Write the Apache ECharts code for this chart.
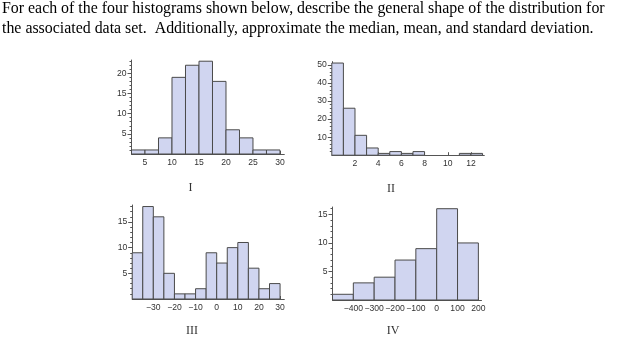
<!DOCTYPE html>
<html>
<head>
<meta charset="utf-8">
<script src="https://cdn.jsdelivr.net/npm/echarts@6/dist/echarts.min.js"></script>
<style>
html,body{margin:0;padding:0;background:#fff;}
#chart{width:630px;height:356px;}
</style>
</head>
<body>
<div id="chart"></div>
<script>
// ---- data ----
const titleLines = [
  'For each of the four histograms shown below, describe the general shape of the distribution for',
  'the associated data set.  Additionally, approximate the median, mean, and standard deviation.'
];
const panelNames = ['I', 'II', 'III', 'IV'];

const h1Edges = [2.5, 5, 7.5, 10, 12.5, 15, 17.5, 20, 22.5, 25, 27.5, 30];
const h1Counts = [1, 1, 4, 19, 22, 23, 18, 6, 4, 1, 1];
const h1XTicks = [5, 10, 15, 20, 25, 30];
const h1YTicks = [5, 10, 15, 20];

const h2Edges = [0, 1, 2, 3, 4, 5, 6, 7, 8, 9, 10, 11, 12, 13];
const h2Counts = [51, 26, 11, 4, 1, 2, 1, 2, 0, 0, 0, 1, 1];
const h2XTicks = [2, 4, 6, 8, 10, 12];
const h2YTicks = [10, 20, 30, 40, 50];

const h3Edges = [-40, -35, -30, -25, -20, -15, -10, -5, 0, 5, 10, 15, 20, 25, 30];
const h3Counts = [9, 18, 16, 5, 1, 1, 2, 9, 7, 10, 11, 6, 2, 3];
const h3XTicks = [-30, -20, -10, 0, 10, 20, 30];
const h3YTicks = [5, 10, 15];

const h4Edges = [-500, -400, -300, -200, -100, 0, 100, 200];
const h4Counts = [1, 3, 4, 7, 9, 16, 10];
const h4XTicks = [-400, -300, -200, -100, 0, 100, 200];
const h4YTicks = [5, 10, 15];

// ---- layout / style ----
const panels = [
  {edges: h1Edges, counts: h1Counts, xt: h1XTicks, yt: h1YTicks, grid: {left: 131.5, top: 60, width: 152.8, height: 94}, x: [2.5, 30.8], y: [0, 23.3], minorStep: 1},
  {edges: h2Edges, counts: h2Counts, xt: h2XTicks, yt: h2YTicks, grid: {left: 331.8, top: 61.6, width: 152.5, height: 93.6}, x: [0, 13.15], y: [0, 51.8], minorStep: 2},
  {edges: h3Edges, counts: h3Counts, xt: h3XTicks, yt: h3YTicks, grid: {left: 132.2, top: 205, width: 152.1, height: 94}, x: [-40, 32], y: [0, 18.3], minorStep: 1},
  {edges: h4Edges, counts: h4Counts, xt: h4XTicks, yt: h4YTicks, grid: {left: 332.5, top: 207, width: 149, height: 93}, x: [-500, 215], y: [0, 16.3], minorStep: 1}
];
const namePos = [[190.5, 187.5], [391, 188.5], [192, 331], [393, 331]];

const FILL = '#d0d5f0';
const EDGE = '#4a4a4a';
const AXIS = '#555';
const LABEL = '#333';
const fmt = v => (v < 0 ? '\u2212' + (-v) : String(v));

function minorValues(max, step) {
  const out = [];
  for (let v = step; v <= max; v += step) out.push(v);
  return out;
}

const grids = [], xAxes = [], yAxes = [], series = [];
panels.forEach((p, i) => {
  grids.push(Object.assign({outerBoundsMode: 'none', containLabel: false}, p.grid));
  xAxes.push({
    type: 'value', gridIndex: i, min: p.x[0], max: p.x[1],
    splitLine: {show: false},
    axisLine: {show: true, onZero: false, lineStyle: {color: AXIS, width: 1}},
    axisTick: {show: true, inside: true, length: 3, customValues: p.xt, lineStyle: {color: AXIS}},
    axisLabel: {show: true, customValues: p.xt, formatter: fmt, margin: 4,
      fontSize: 8.6, fontFamily: 'Liberation Sans', color: LABEL}
  });
});
panels.forEach((p, i) => {
  // minor ticks axis
  yAxes.push({
    type: 'value', gridIndex: i, min: p.y[0], max: p.y[1], position: 'left',
    splitLine: {show: false},
    axisLine: {show: true, onZero: false, lineStyle: {color: AXIS, width: 1}},
    axisTick: {show: true, length: 2, customValues: minorValues(p.y[1], p.minorStep), lineStyle: {color: AXIS}},
    axisLabel: {show: false}
  });
});
panels.forEach((p, i) => {
  // major ticks + labels axis
  yAxes.push({
    type: 'value', gridIndex: i, min: p.y[0], max: p.y[1], position: 'left',
    splitLine: {show: false},
    axisLine: {show: false, onZero: false},
    axisTick: {show: true, length: 4, customValues: p.yt, lineStyle: {color: AXIS}},
    axisLabel: {show: true, customValues: p.yt, formatter: fmt, margin: 5,
      fontSize: 8.6, fontFamily: 'Liberation Sans', color: LABEL}
  });
});

function renderBar(params, api) {
  const x0 = api.value(0), x1 = api.value(1), c = api.value(2);
  const p0 = api.coord([x0, 0]);
  const p1 = api.coord([x1, c]);
  return {
    type: 'rect',
    shape: {x: p0[0], y: p1[1], width: p1[0] - p0[0], height: p0[1] - p1[1]},
    style: {fill: FILL, stroke: EDGE, lineWidth: 1}
  };
}

panels.forEach((p, i) => {
  const data = [];
  p.counts.forEach((c, k) => { if (c > 0) data.push([p.edges[k], p.edges[k + 1], c]); });
  series.push({
    type: 'custom', xAxisIndex: i, yAxisIndex: i,
    renderItem: renderBar, encode: {x: [0, 1], y: 2},
    data: data, silent: true, animation: false, clip: false
  });
});

const graphics = [];
titleLines.forEach((t, k) => {
  graphics.push({type: 'text', left: 2, top: 0.5 + k * 20.3,
    style: {text: t, font: '15.9px "Liberation Serif"', fill: '#000'}});
});
panelNames.forEach((n, k) => {
  graphics.push({type: 'text', x: namePos[k][0], y: namePos[k][1],
    style: {text: n, font: '12px "Liberation Serif"', fill: '#333', align: 'center', verticalAlign: 'middle'}});
});

const chart = echarts.init(document.getElementById('chart'), null, {renderer: 'canvas'});
chart.setOption({
  animation: false,
  backgroundColor: '#ffffff',
  grid: grids,
  xAxis: xAxes,
  yAxis: yAxes,
  series: series,
  graphic: graphics
});
</script>
</body>
</html>
